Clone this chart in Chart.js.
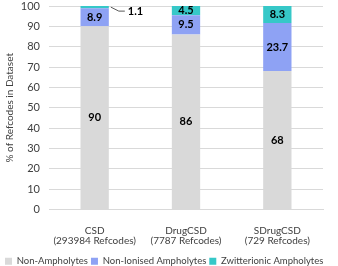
<!DOCTYPE html>
<html>
<head>
<meta charset="utf-8">
<script src="https://cdn.jsdelivr.net/npm/chart.js@4"></script>
<style>
  html, body { margin: 0; padding: 0; background: #fff; }
  #wrap { width: 338px; height: 266px; position: relative; }
</style>
</head>
<body>
<div id="wrap"><canvas id="chart"></canvas></div>
<script>
// chart data
const categories = [['CSD', '(293984 Refcodes)'], ['DrugCSD', '(7787 Refcodes)'], ['SDrugCSD', '(729 Refcodes)']];
const nonAmpholytes = [90, 86, 68];
const nonIonised = [8.9, 9.5, 23.7];
const zwitterionic = [1.1, 4.5, 8.3];
const seriesNames = ['Non-Ampholytes', 'Non-Ionised Ampholytes', 'Zwitterionic Ampholytes'];
const yTicks = [0, 10, 20, 30, 40, 50, 60, 70, 80, 90, 100];

const FONT = "Lato, sans-serif";

// draws the bold value labels in the middle of each segment
const segmentLabels = {
    id: 'segmentLabels',
    afterDatasetsDraw(chart) {
        const ctx = chart.ctx;
        ctx.save();
        ctx.font = "bold 11px " + FONT;
        ctx.fillStyle = '#000';
        ctx.textAlign = 'center';
        ctx.textBaseline = 'middle';
        chart.data.datasets.forEach((ds, di) => {
            const meta = chart.getDatasetMeta(di);
            meta.data.forEach((bar, i) => {
                const v = ds.data[i];
                const top = bar.y, bottom = bar.base;
                if (bottom - top < 5) {
                    // thin segment: label off to the side with a leader line
                    const x0 = bar.x + bar.width / 2 + 2;
                    const yMid = (top + bottom) / 2;
                    ctx.strokeStyle = '#595959';
                    ctx.lineWidth = 1;
                    ctx.beginPath();
                    ctx.moveTo(x0, yMid);
                    ctx.lineTo(x0 + 8, yMid + 4);
                    ctx.lineTo(x0 + 14, yMid + 4);
                    ctx.stroke();
                    ctx.textAlign = 'left';
                    ctx.fillText(String(v), x0 + 17, yMid + 4);
                    ctx.textAlign = 'center';
                } else {
                    ctx.fillText(String(v), bar.x, (top + bottom) / 2);
                }
            });
        });
        ctx.restore();
    }
};

new Chart(document.getElementById('chart'), {
    type: 'bar',
    data: {
        labels: categories,
        datasets: [
            { label: seriesNames[0], data: nonAmpholytes, backgroundColor: '#d9d9d9' },
            { label: seriesNames[1], data: nonIonised, backgroundColor: '#8ea2f4' },
            { label: seriesNames[2], data: zwitterionic, backgroundColor: '#36c8c8' }
        ]
    },
    options: {
        responsive: true,
        maintainAspectRatio: false,
        animation: false,
        layout: { padding: { top: 0, right: 0, left: 2, bottom: -10 } },
        datasets: { bar: { categoryPercentage: 1, barPercentage: 0.31 } },
        plugins: {
            legend: {
                position: 'bottom',
                align: 'start',
                labels: {
                    boxWidth: 7, boxHeight: 7, padding: 3,
                    color: '#404040',
                    font: { family: FONT, size: 9.5 }
                }
            },
            tooltip: { enabled: false }
        },
        scales: {
            x: {
                stacked: true,
                grid: { display: false },
                border: { color: '#d9d9d9' },
                ticks: {
                    color: '#404040', font: { family: FONT, size: 10, lineHeight: 1.0 }, padding: 8,
                    maxRotation: 0, minRotation: 0, autoSkip: false
                }
            },
            y: {
                stacked: true,
                min: 0, max: 100,
                afterBuildTicks: axis => { axis.ticks = yTicks.map(v => ({ value: v })); },
                afterFit: s => { s.width = 47; s.paddingTop = 6; s.paddingBottom = 0; },
                grid: { color: '#d9d9d9', drawTicks: false },
                border: { display: false },
                ticks: { color: '#404040', font: { family: FONT, size: 11 }, padding: 9 },
                title: {
                    display: true, text: '% of Refcodes in Dataset',
                    color: '#404040', font: { family: FONT, size: 10 }, padding: 2
                }
            },
            // empty right-hand axis, only keeps the plot off the right edge
            yPad: {
                position: 'right',
                display: true,
                grid: { display: false },
                border: { display: false },
                ticks: { display: false },
                afterFit: s => { s.width = 15; s.paddingTop = 0; s.paddingBottom = 0; }
            }
        }
    },
    plugins: [segmentLabels]
});
</script>
</body>
</html>
